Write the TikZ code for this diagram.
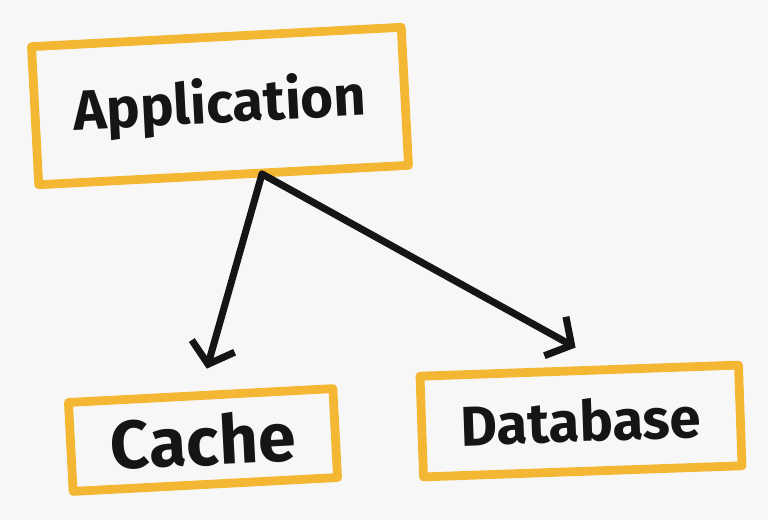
\documentclass[tikz,border=0pt]{standalone}
\usepackage{fontspec}
\setmainfont{Fira Sans}
\usepackage{xcolor}
\usetikzlibrary{arrows.meta}
\definecolor{boxorange}{HTML}{F4B733}
\definecolor{paper}{HTML}{F7F7F7}
\definecolor{ink}{HTML}{151515}

\begin{document}
\begin{tikzpicture}[x = 0.03cm, y = -0.03cm]
        \tikzstyle{box} = [rectangle, draw = boxorange, line width = 7.5pt, line cap = round, line join = round, text = ink, inner sep = 0pt, font = \bfseries]
        \tikzstyle{arr} = [draw = ink, line width = 6pt, line cap = round, line join = round, -{Straight Barb[length = 16pt, width = 38pt, line width = 6pt]}]
        \fill[paper] (0, 0) rectangle (768, 520);
        \useasboundingbox (0, 0) rectangle (768, 520);

        \node(app)[box, minimum width = 316pt, minimum height = 118pt, rotate = 3] at (220, 106) {\fontsize{48}{52}\selectfont Application};
        \node(cache)[box, minimum width = 226pt, minimum height = 76pt, rotate = 3] at (203, 440) {\fontsize{58}{62}\selectfont Cache};
        \node(db)[box, minimum width = 272pt, minimum height = 86pt, rotate = 2] at (581, 421) {\fontsize{48}{52}\selectfont Database};

        \coordinate(fork) at (262, 174);
        \draw [arr, shorten > = 20pt] (fork) -- (cache.north);
        \draw [arr] (fork) -- ([xshift = -3pt, yshift = 16pt]db.north);

    \end{tikzpicture}
\end{document}
